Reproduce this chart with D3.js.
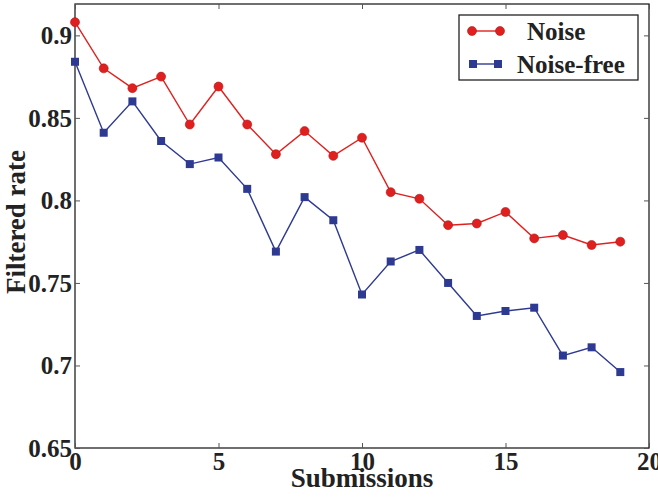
<!DOCTYPE html>
<html>
<head>
<meta charset="utf-8">
<script src="https://cdn.jsdelivr.net/npm/d3@7"></script>
<style>
body { margin: 0; background: #fff; }
svg { display: block; }
</style>
</head>
<body>
<svg id="chart"></svg>
<script>
var w = 658,
	h = 498;
var submissions = [0,1,2,3,4,5,6,7,8,9,10,11,12,13,14,15,16,17,18,19];
var noise = [0.908,0.880,0.868,0.875,0.846,0.869,0.846,0.828,0.842,0.827,0.838,0.805,0.801,0.785,0.786,0.793,0.777,0.779,0.773,0.775];
var noiseFree = [0.884,0.841,0.860,0.836,0.822,0.826,0.807,0.769,0.802,0.788,0.743,0.763,0.770,0.750,0.730,0.733,0.735,0.706,0.711,0.696];
var xTicks = [0,5,10,15,20];
var yTicks = [0.65,0.7,0.75,0.8,0.85,0.9];
var seriesNames = ["Noise","Noise-free"];

var red = "#e0201f", blue = "#2e3a92";
var font = "'Liberation Serif','Times New Roman',serif";

function init(){
	var svg = d3.select("#chart").attr("width", w).attr("height", h);
	var left = 75, right = 649, top = 4, bottom = 448;

	var x = d3.scaleLinear().domain([0,20]).range([left,right]);
	var y = d3.scaleLinear().domain([0.65,0.919]).range([bottom,top]);

	// frame
	svg.append("rect")
		.attr("x", left).attr("y", top)
		.attr("width", right-left).attr("height", bottom-top)
		.attr("fill", "none").attr("stroke", "#222").attr("stroke-width", 1.3);

	// ticks inward on all four sides
	var xb = svg.append("g").attr("transform", "translate(0,"+bottom+")")
		.call(d3.axisBottom(x).tickValues(xTicks).tickSizeInner(-5).tickSizeOuter(0).tickPadding(2).tickFormat(d3.format("d")));
	var xt = svg.append("g").attr("transform", "translate(0,"+top+")")
		.call(d3.axisTop(x).tickValues(xTicks).tickSizeInner(-5).tickSizeOuter(0).tickFormat(""));
	var yl = svg.append("g").attr("transform", "translate("+left+",0)")
		.call(d3.axisLeft(y).tickValues(yTicks).tickSizeInner(-5).tickSizeOuter(0).tickPadding(3).tickFormat(function(d){ return String(+d.toFixed(2)); }));
	var yr = svg.append("g").attr("transform", "translate("+right+",0)")
		.call(d3.axisRight(y).tickValues(yTicks).tickSizeInner(-5).tickSizeOuter(0).tickFormat(""));
	[xb,xt,yl,yr].forEach(function(g){
		g.select(".domain").remove();
		g.selectAll("line").attr("stroke", "#555");
		g.selectAll("text").attr("fill", "#222")
			.style("font-family", font).style("font-size", "25px").style("font-weight", "bold");
	});
	xb.selectAll("text").attr("dy", "0.78em");
	yl.selectAll("text").attr("dy", "0.34em");

	// lines
	var lineN = d3.line().x(function(d,i){ return x(submissions[i]); }).y(function(d){ return y(d); });
	svg.append("path").datum(noise).attr("d", lineN)
		.attr("fill", "none").attr("stroke", red).attr("stroke-width", 1.4);
	svg.append("path").datum(noiseFree).attr("d", lineN)
		.attr("fill", "none").attr("stroke", blue).attr("stroke-width", 1.4);

	svg.selectAll(".dotN").data(noise).enter().append("circle")
		.attr("cx", function(d,i){ return x(submissions[i]); })
		.attr("cy", function(d){ return y(d); })
		.attr("r", 4.5).attr("fill", red).attr("stroke", "#b01818").attr("stroke-width", 0.6);
	svg.selectAll(".sqF").data(noiseFree).enter().append("rect")
		.attr("x", function(d,i){ return x(submissions[i])-4; })
		.attr("y", function(d){ return y(d)-4; })
		.attr("width", 8).attr("height", 8).attr("fill", blue);

	// axis titles
	svg.append("text").text("Submissions")
		.attr("x", (left+right)/2).attr("y", 487).attr("text-anchor", "middle")
		.style("font-family", font).style("font-size", "27px").style("font-weight", "bold").attr("fill", "#222");
	svg.append("text").text("Filtered rate")
		.attr("transform", "translate(25,"+222+") rotate(-90)").attr("text-anchor", "middle")
		.style("font-family", font).style("font-size", "27px").style("font-weight", "bold").attr("fill", "#222");

	// legend
	var lg = svg.append("g");
	lg.append("rect").attr("x", 459).attr("y", 15).attr("width", 179).attr("height", 65)
		.attr("fill", "#fff").attr("stroke", "#222").attr("stroke-width", 1.3);
	var rows = [31, 64];
	lg.append("line").attr("x1", 472).attr("x2", 500).attr("y1", rows[0]).attr("y2", rows[0]).attr("stroke", red).attr("stroke-width", 1.4);
	[472,500].forEach(function(cx){
		lg.append("circle").attr("cx", cx).attr("cy", rows[0]).attr("r", 4.5).attr("fill", red).attr("stroke", "#b01818").attr("stroke-width", 0.6);
	});
	lg.append("line").attr("x1", 473).attr("x2", 498).attr("y1", rows[1]).attr("y2", rows[1]).attr("stroke", blue).attr("stroke-width", 1.4);
	[473,498].forEach(function(cx){
		lg.append("rect").attr("x", cx-4).attr("y", rows[1]-4).attr("width", 8).attr("height", 8).attr("fill", blue);
	});
	lg.selectAll(".lbl").data(seriesNames).enter().append("text")
		.text(function(d){ return d; })
		.attr("x", function(d,i){ return i==0 ? 527 : 517; })
		.attr("y", function(d,i){ return rows[i]+9; })
		.style("font-family", font).style("font-size", "25px").style("font-weight", "bold").attr("fill", "#222");
}
init();
</script>
</body>
</html>
